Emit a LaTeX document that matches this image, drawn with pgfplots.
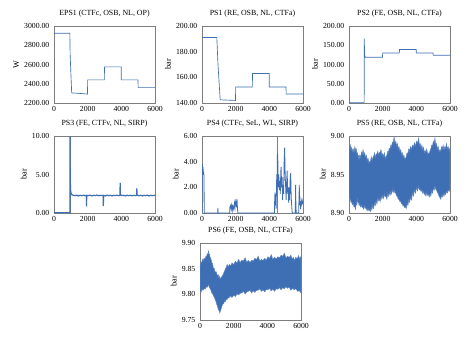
\documentclass[border=0pt]{standalone}
\usepackage{fontspec}
\setmainfont{Liberation Serif}
\usepackage{pgfplots}
\pgfplotsset{compat=1.18}
\definecolor{lc}{RGB}{62,110,180}
\definecolor{fr}{RGB}{125,125,125}
\pgfplotsset{
  panel/.style={
    scale only axis, width=75.75pt, height=57.75pt,
    anchor=north west,
    xmin=0, xmax=6000, xtick={0,2000,4000,6000},
    axis line style={fr, line width=0.5pt},
    major tick length=0pt,
    /pgf/number format/assume math mode=true,
    every tick label/.append style={font=\fontsize{5.8}{6.5}\selectfont},
    title style={font=\fontsize{5.9}{7}\selectfont, yshift=-3pt},
    ylabel style={font=\fontsize{6.2}{7}\selectfont, yshift=-3pt},
    x tick label style={/pgf/number format/1000 sep={}, yshift=1pt},
    y tick label style={/pgf/number format/.cd, fixed, fixed zerofill, precision=2, 1000 sep={}},
    scaled y ticks=false,
    ylabel=bar,
  }
}
\begin{document}
\begin{tikzpicture}
\path[use as bounding box, fill=white] (0,0) rectangle (355.5pt,-260.25pt);

% EPS1
\begin{axis}[panel, at={(40.5pt,-19.5pt)}, title={EPS1 (CTFc, OSB, NL, OP)}, ylabel={W},
  ymin=2200, ymax=3000, ytick={2200,2400,2600,2800,3000}]
\addplot[lc, line width=0.5pt] coordinates {(0,2925)(940,2925)(960,2700)(1050,2305)(1500,2300)(1990,2293)(2000,2440)(2990,2440)(3000,2575)(3990,2575)(4000,2440)(4990,2440)(5000,2360)(6000,2360)};
\end{axis}

% PS1
\begin{axis}[panel, at={(151.5pt,-19.5pt)}, title={PS1 (RE, OSB, NL, CTFa)},
  ymin=140, ymax=200, ytick={140,160,180,200}]
\addplot[lc, line width=0.5pt] coordinates {(0,191)(880,191)(950,170)(1080,142.5)(1990,142)(2000,152.5)(2990,152.5)(3000,163)(3990,163)(4000,152.5)(4990,152.5)(5000,147)(6000,147)};
\end{axis}

% PS2
\begin{axis}[panel, at={(261.75pt,-19.5pt)}, title={PS2 (FE, OSB, NL, CTFa)},
  ymin=0, ymax=200, ytick={0,50,100,150,200}]
\addplot[lc, line width=0.5pt] coordinates {(0,0.5)(900,0.5)(905,167)(930,125)(960,119)(1990,119)(2000,130)(2990,130)(3000,139)(3990,139)(4000,130)(4990,130)(5000,124)(6000,124)};
\end{axis}

% PS3
\begin{axis}[panel, at={(40.5pt,-102pt)}, title={PS3 (FE, CTFv, NL, SIRP)},
  ymin=0, ymax=10, ytick={0,5,10}]
\addplot[fr, line width=0.5pt] coordinates {(950,0)(950,10)};
\addplot[lc, line width=0.9pt] coordinates {(0,0.05)(948,0.05)(950,10)(955,7)(965,4.5)(980,3.2)(1000,2.7)(1030,2.45)(1080,2.35)(1150,2.3)(1250,2.25)(1350,2.32)(1450,2.22)(1550,2.3)(1650,2.24)(1750,2.31)(1850,2.26)(1920,2.3)(1930,0.85)(1945,2.3)(2050,2.25)(2150,2.32)(2250,2.22)(2350,2.3)(2450,2.25)(2550,2.33)(2650,2.24)(2750,2.3)(2850,2.26)(2920,2.3)(2930,0.9)(2945,2.28)(3050,2.22)(3150,2.32)(3250,2.25)(3350,2.3)(3450,2.22)(3550,2.3)(3650,2.26)(3750,2.32)(3850,2.24)(3920,2.3)(3930,3.9)(3945,2.4)(4050,2.25)(4150,2.3)(4250,2.22)(4350,2.31)(4450,2.25)(4550,2.3)(4650,2.23)(4750,2.3)(4850,2.26)(4910,2.3)(4920,3.2)(4935,2.35)(5050,2.24)(5150,2.3)(5250,2.22)(5350,2.3)(5450,2.25)(5550,2.31)(5650,2.22)(5750,2.3)(5850,2.25)(5950,2.3)(6000,2.27)};
\end{axis}

% PS4
\begin{axis}[panel, at={(151.5pt,-102pt)}, title={PS4 (CTFc, SeL, WL, SIRP)},
  ymin=0, ymax=6, ytick={0,2,4,6}]
\addplot[fr, line width=0.4pt] coordinates {(10,0)(10,5.0)};
\addplot[fr, line width=0.4pt] coordinates {(4500,0)(4500,6)};
\addplot[lc, line width=0.6pt] coordinates {(0,0)(5,1.5)(15,3.2)(25,3.8)(40,3.3)(60,3.6)(80,3.0)(100,3.2)(120,2.8)(130,0.2)(140,0)(940,0)(945,0.4)(950,0)(1640,0)(1660,0.5)(1700,0.6)(1730,0.3)(1760,0.6)(1800,0.2)(1830,0.55)(1880,0.3)(1930,0.8)(1960,0.4)(2000,0.9)(2040,0.6)(2080,1.1)(2110,0.3)(2130,0)(4300,0)(4320,1.2)(4340,1.6)(4360,0.6)(4380,1.2)(4400,0.3)(4420,1.5)(4440,3.0)(4460,2.0)(4480,4.7)(4500,4.5)(4530,2.0)(4560,3.0)(4590,1.8)(4620,2.5)(4650,1.5)(4680,3.2)(4700,3.6)(4730,2.0)(4760,2.8)(4790,1.0)(4820,2.2)(4850,1.5)(4880,4.0)(4910,5.1)(4940,3.0)(4970,2.0)(5000,1.0)(5030,2.5)(5060,3.3)(5090,1.5)(5120,2.0)(5150,0.8)(5180,2.0)(5210,1.0)(5240,2.8)(5270,3.1)(5300,1.2)(5330,0.5)(5360,0)(5540,0)(5560,2.2)(5580,0.5)(5600,0)(5740,0)(5760,1.0)(5780,2.2)(5800,0.6)(5830,0.9)(5860,0.3)(5880,1.0)(5920,0.7)(5950,1.0)(5980,0.8)(6000,0.9)};
\end{axis}

% PS5
\begin{axis}[panel, at={(261.75pt,-102pt)}, title={PS5 (RE, OSB, NL, CTFa)},
  ymin=8.9, ymax=9.0, ytick={8.9,8.95,9.0}]
\addplot[lc!85, fill=lc, line width=0.4pt] coordinates {(0,8.990)(40,8.985)(80,8.988)(120,8.982)(155,8.985)(200,8.980)(250,8.983)(300,8.978)(350,8.986)(390,8.981)(430,8.983)(470,8.976)(505,8.978)(540,8.971)(570,8.974)(600,8.970)(640,8.975)(690,8.972)(740,8.979)(790,8.976)(835,8.982)(880,8.976)(930,8.978)(980,8.972)(1030,8.975)(1080,8.968)(1130,8.971)(1180,8.965)(1225,8.967)(1270,8.966)(1320,8.973)(1370,8.968)(1420,8.972)(1470,8.974)(1515,8.978)(1560,8.972)(1610,8.976)(1660,8.977)(1710,8.980)(1750,8.975)(1800,8.978)(1850,8.979)(1900,8.982)(1950,8.975)(2000,8.977)(2050,8.973)(2100,8.978)(2150,8.970)(2195,8.973)(2250,8.975)(2300,8.980)(2340,8.978)(2390,8.984)(2440,8.983)(2485,8.988)(2530,8.986)(2580,8.992)(2630,8.991)(2680,8.999)(2730,8.990)(2780,8.993)(2830,8.987)(2875,8.990)(2920,8.983)(2970,8.986)(3020,8.980)(3070,8.982)(3120,8.976)(3170,8.978)(3210,8.972)(3260,8.975)(3310,8.970)(3360,8.971)(3400,8.973)(3450,8.978)(3500,8.977)(3550,8.983)(3600,8.980)(3650,8.986)(3710,8.983)(3770,8.988)(3830,8.986)(3885,8.991)(3950,8.987)(4010,8.993)(4070,8.991)(4135,8.997)(4180,8.988)(4230,8.990)(4280,8.984)(4330,8.988)(4380,8.982)(4430,8.985)(4470,8.978)(4520,8.981)(4570,8.979)(4620,8.983)(4670,8.976)(4720,8.978)(4770,8.977)(4815,8.981)(4860,8.983)(4910,8.988)(4960,8.987)(5010,8.993)(5060,8.991)(5105,8.997)(5150,8.988)(5200,8.990)(5250,8.983)(5300,8.986)(5350,8.979)(5400,8.982)(5450,8.980)(5500,8.986)(5545,8.983)(5590,8.988)(5640,8.982)(5690,8.986)(5740,8.984)(5785,8.990)(5840,8.983)(5890,8.986)(5950,8.981)(6000,8.984)
(6000,8.932)(5950,8.928)(5890,8.930)(5840,8.926)(5785,8.928)(5740,8.924)(5690,8.926)(5640,8.922)(5590,8.925)(5545,8.921)(5500,8.923)(5450,8.918)(5400,8.920)(5350,8.922)(5300,8.925)(5250,8.927)(5200,8.930)(5150,8.931)(5105,8.935)(5060,8.930)(5010,8.932)(4960,8.926)(4910,8.929)(4860,8.922)(4815,8.925)(4770,8.921)(4720,8.924)(4670,8.923)(4620,8.927)(4570,8.922)(4520,8.926)(4470,8.924)(4430,8.928)(4380,8.926)(4330,8.930)(4280,8.928)(4230,8.931)(4180,8.930)(4135,8.935)(4070,8.929)(4010,8.933)(3950,8.926)(3885,8.930)(3830,8.922)(3770,8.926)(3710,8.917)(3650,8.920)(3600,8.914)(3550,8.917)(3500,8.910)(3450,8.913)(3400,8.906)(3360,8.908)(3310,8.907)(3260,8.910)(3210,8.909)(3170,8.912)(3120,8.912)(3070,8.915)(3020,8.915)(2970,8.918)(2920,8.918)(2875,8.922)(2830,8.922)(2780,8.926)(2730,8.926)(2680,8.930)(2630,8.927)(2580,8.931)(2530,8.925)(2485,8.928)(2440,8.923)(2390,8.927)(2340,8.922)(2300,8.926)(2250,8.918)(2200,8.922)(2150,8.921)(2100,8.925)(2050,8.919)(2000,8.923)(1950,8.918)(1900,8.922)(1850,8.915)(1800,8.918)(1750,8.916)(1710,8.920)(1660,8.912)(1610,8.916)(1560,8.910)(1515,8.913)(1460,8.906)(1400,8.910)(1360,8.904)(1320,8.908)(1270,8.902)(1225,8.904)(1180,8.903)(1130,8.906)(1080,8.903)(1030,8.906)(980,8.906)(930,8.910)(880,8.905)(835,8.908)(790,8.907)(740,8.910)(690,8.908)(640,8.912)(600,8.910)(570,8.914)(540,8.914)(505,8.918)(470,8.911)(430,8.914)(390,8.905)(350,8.908)(300,8.908)(250,8.912)(200,8.911)(155,8.915)(120,8.914)(80,8.918)(40,8.918)(0,8.923)} -- cycle;
\end{axis}

% PS6
\begin{axis}[panel, at={(150pt,-182.25pt)}, title={PS6 (FE, OSB, NL, CTFa)},
  ymin=9.75, ymax=9.9, ytick={9.75,9.8,9.85,9.9}]
\addplot[lc!85, fill=lc, line width=0.4pt] coordinates {(0,9.855)(40,9.860)(80,9.862)(120,9.864)(155,9.868)(200,9.866)(250,9.870)(300,9.869)(350,9.874)(390,9.873)(430,9.879)(470,9.878)(505,9.884)(540,9.877)(570,9.878)(600,9.870)(640,9.871)(690,9.862)(740,9.860)(790,9.851)(835,9.851)(900,9.843)(960,9.844)(1020,9.837)(1087,9.838)(1120,9.832)(1150,9.835)(1190,9.830)(1223,9.832)(1270,9.833)(1320,9.836)(1370,9.838)(1417,9.842)(1460,9.845)(1510,9.850)(1560,9.852)(1612,9.858)(1680,9.854)(1750,9.858)(1830,9.856)(1903,9.861)(2000,9.858)(2100,9.864)(2200,9.861)(2291,9.868)(2380,9.862)(2480,9.866)(2580,9.865)(2680,9.871)(2780,9.862)(2870,9.866)(2970,9.862)(3068,9.866)(3160,9.865)(3260,9.870)(3360,9.868)(3456,9.874)(3550,9.865)(3650,9.868)(3750,9.866)(3845,9.870)(3940,9.867)(4040,9.873)(4140,9.870)(4233,9.877)(4330,9.868)(4430,9.872)(4530,9.869)(4621,9.873)(4720,9.871)(4815,9.876)(4910,9.874)(5010,9.880)(5100,9.871)(5200,9.874)(5300,9.872)(5398,9.876)(5470,9.868)(5540,9.872)(5610,9.866)(5689,9.872)(5770,9.869)(5850,9.875)(5930,9.869)(6000,9.874)
(6000,9.803)(5900,9.807)(5800,9.806)(5700,9.811)(5590,9.809)(5500,9.812)(5400,9.808)(5300,9.814)(5200,9.812)(5100,9.815)(5010,9.811)(4910,9.813)(4815,9.809)(4720,9.813)(4620,9.810)(4520,9.811)(4430,9.806)(4330,9.810)(4230,9.807)(4130,9.812)(4040,9.809)(3940,9.810)(3850,9.805)(3750,9.809)(3650,9.806)(3550,9.811)(3450,9.808)(3350,9.808)(3260,9.804)(3160,9.807)(3070,9.803)(2970,9.808)(2875,9.806)(2780,9.805)(2680,9.801)(2580,9.806)(2485,9.803)(2380,9.802)(2290,9.799)(2200,9.801)(2100,9.796)(2000,9.798)(1900,9.794)(1800,9.797)(1710,9.793)(1660,9.793)(1610,9.790)(1550,9.790)(1500,9.786)(1450,9.786)(1400,9.782)(1350,9.781)(1300,9.777)(1270,9.774)(1240,9.770)(1210,9.768)(1180,9.764)(1130,9.769)(1087,9.770)(1040,9.777)(1000,9.780)(950,9.786)(900,9.790)(850,9.795)(800,9.797)(750,9.801)(700,9.803)(650,9.808)(600,9.811)(550,9.815)(505,9.819)(440,9.814)(380,9.815)(310,9.810)(250,9.812)(180,9.808)(120,9.810)(60,9.804)(0,9.806)} -- cycle;
\end{axis}
\end{tikzpicture}
\end{document}
